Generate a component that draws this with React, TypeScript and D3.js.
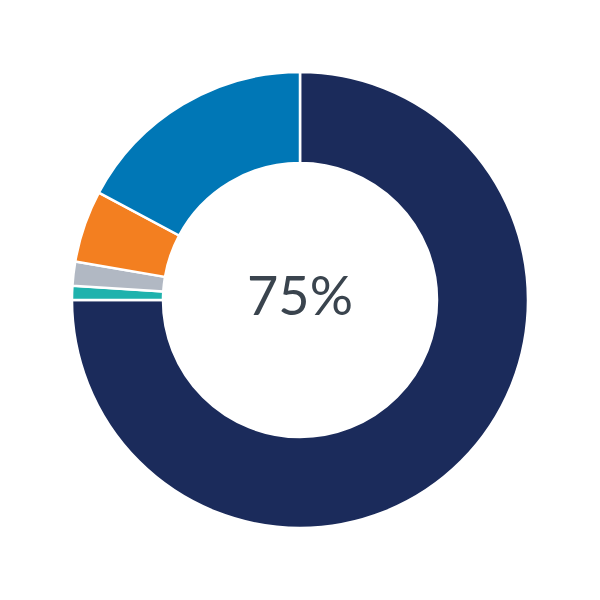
import * as d3 from "d3";

const labels = ["Navy", "Teal", "Gray", "Orange", "Blue"];
const values = [75, 1.0, 1.7, 5.1, 17.2];
const colors = ["#1b2b5b", "#1fb2ad", "#b1b8c3", "#f37f20", "#0077b6"];
const centerLabel = "75%";

const WIDTH = 600;
const HEIGHT = 600;
const OUTER = 228;
const INNER = 137;

export default function App() {
  const pie = d3
    .pie<number>()
    .sort(null)
    .value((d) => d);
  const arcs = pie(values);
  const arc = d3.arc<d3.PieArcDatum<number>>().innerRadius(INNER).outerRadius(OUTER);

  return (
    <svg
      width={WIDTH}
      height={HEIGHT}
      style={{ position: "absolute", left: 0, top: 0 }}
    >
      <g transform={`translate(${WIDTH / 2},${HEIGHT / 2})`}>
        {arcs.map((a, i) => (
          <path
            key={labels[i]}
            d={arc(a) || ""}
            fill={colors[i]}
            stroke="#ffffff"
            strokeWidth={2.5}
          />
        ))}
        <text
          x={0}
          y={15}
          textAnchor="middle"
          fontFamily="Lato"
          fontSize={54}
          fill="#3a444e"
        >
          {centerLabel}
        </text>
      </g>
    </svg>
  );
}
